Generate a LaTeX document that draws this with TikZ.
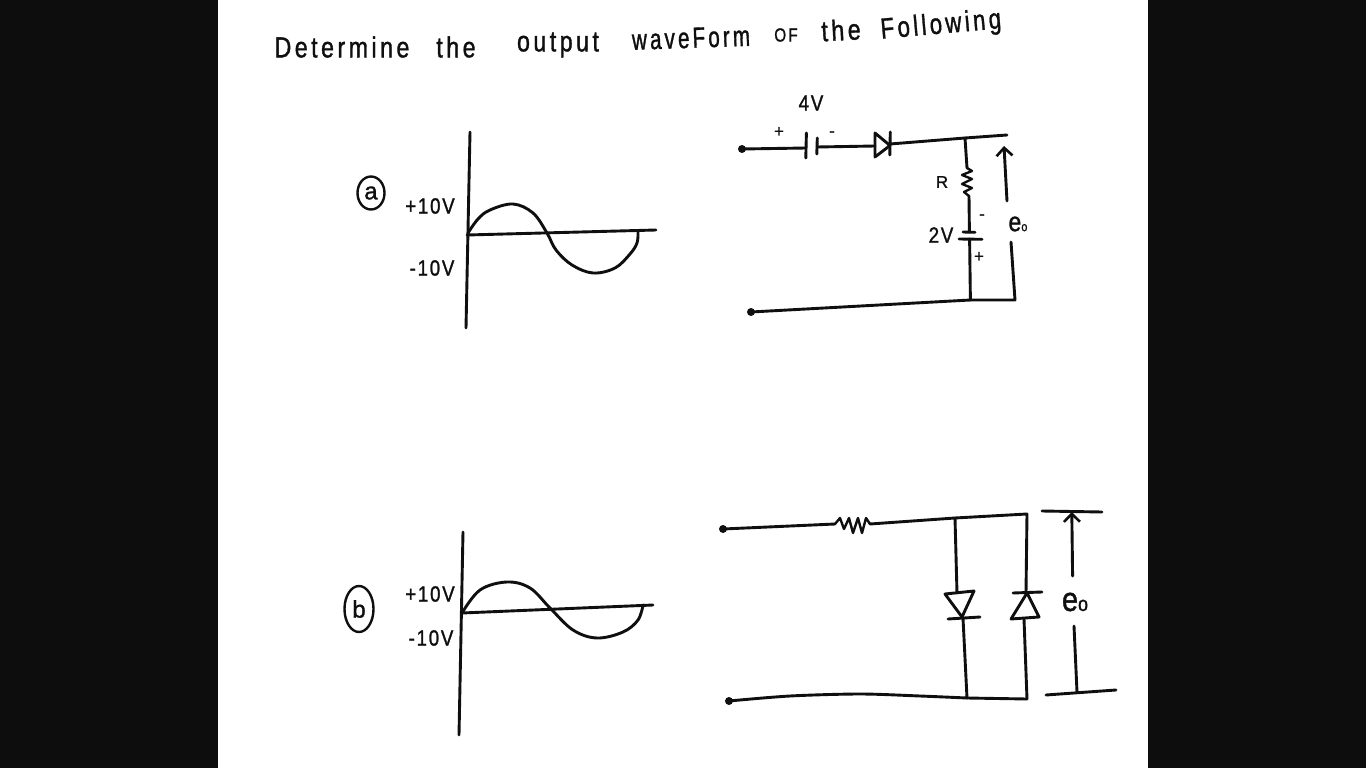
\documentclass[tikz,border=0pt]{standalone}
\usepackage{fontspec}
\setmainfont[FakeBold=1.2]{Liberation Sans}
\newfontfamily\hand[LetterSpace=12,FakeStretch=0.8,FakeBold=1.2]{Liberation Sans}
\newfontfamily\narrowlab[LetterSpace=8,FakeStretch=0.85,FakeBold=1.2]{Liberation Sans}
\usetikzlibrary{arrows.meta,shapes.geometric}
\definecolor{ink}{HTML}{0F0F0F}
\definecolor{frame}{HTML}{0D0D0D}
\tikzset{
  wire/.style={draw=ink,line width=2.9pt,line cap=round,line join=round},
  thin wire/.style={draw=ink,line width=2.4pt,line cap=round,line join=round},
  arrowed/.style={wire,-{Straight Barb[length=8pt,width=16pt,line width=2.6pt]}},
  term/.style={circle,fill=ink,inner sep=0pt,minimum size=8pt},
  title/.style={inner sep=0pt,text=ink,font=\hand\fontsize{29}{31}\selectfont},
  lab/.style={inner sep=0pt,text=ink,font=\narrowlab\fontsize{22}{24}\selectfont},
  small lab/.style={inner sep=0pt,text=ink,font=\fontsize{17}{19}\selectfont},
  eo/.style={inner sep=0pt,text=ink,font=\narrowlab\fontsize{28}{28}\selectfont},
  tag/.style={draw=ink,line width=2.4pt,ellipse,inner sep=0pt,text=ink,font=\fontsize{24}{26}\selectfont}
}
\begin{document}
\begin{tikzpicture}[x=1pt,y=-1pt]
\useasboundingbox (0,0) rectangle (1366,768);
\fill[frame] (0,0) rectangle (1366,768);
\fill[white] (218,0) rectangle (1148,768);

% title
\node[title] (t1) at (342,47) {Determine};
\node[title] (t2) at (456,47) {the};
\node[title] (t3) at (558,45) {output};
\node[title,rotate=2,xscale=0.89] (t4) at (691,38) {waveForm};
\node[title,font=\hand\fontsize{19}{21}\selectfont] (t5) at (786,35) {OF};
\node[title,rotate=3] (t6) at (841,30) {the};
\node[title,rotate=5,xscale=0.96] (t7) at (941,26) {Following};

% graph a
\coordinate (gaT) at (470,132);
\coordinate (gaB) at (466,328);
\coordinate (gaL) at (467,235);
\coordinate (gaR) at (656,230);
\draw[wire] (gaT) -- (gaB);
\draw[wire] (gaL) -- (gaR);
\draw[wire] plot[smooth,tension=0.6] coordinates {(468,233) (478,219) (490,210) (513,204) (533,213) (547,233) (556,250) (572,265) (593,273) (615,268) (630,254) (637,243) (638,232)};
\node[tag,minimum width=27pt,minimum height=33pt] (ca) at (371,193) {a};
\node[lab] (a10p) at (430,206) {+10V};
\node[lab] (a10m) at (432,268) {-10V};

% graph b
\coordinate (gbT) at (463,532);
\coordinate (gbB) at (459,735);
\coordinate (gbL) at (462,613);
\coordinate (gbR) at (653,605);
\draw[wire] (gbT) -- (gbB);
\draw[wire] (gbL) -- (gbR);
\draw[wire] plot[smooth,tension=0.6] coordinates {(462,613) (480,590) (507,582) (530,588) (550,608) (573,630) (597,638) (623,632) (638,620) (643,605)};
\node[tag,minimum width=29pt,minimum height=46pt] (cb) at (359,609) {b};
\node[lab] (b10p) at (430,594) {+10V};
\node[lab] (b10m) at (431,638) {-10V};

% circuit a
\node[term] (p1) at (742,149) {};
\node[term] (p2) at (751,312) {};
\coordinate (c1) at (806,148);
\coordinate (c2) at (817,147);
\coordinate (d1) at (875,146);
\coordinate (d2) at (890,144);
\coordinate (j1) at (965,138);
\coordinate (o1) at (1007,135);
\coordinate (r1) at (967,168);
\coordinate (r2) at (969,196);
\coordinate (b1) at (969.4,232);
\coordinate (b2) at (969.6,239);
\coordinate (j2) at (970.4,300);
\coordinate (k1) at (1015,300);
\coordinate (k2) at (1011,242);
\coordinate (ar1) at (1007,201);
\coordinate (ar2) at (1004,146);
\draw[wire] (p1.center) -- (c1);
\draw[wire] (806.4,133) -- (805.8,158);
\draw[wire] (817.3,138) -- (816.8,154);
\draw[wire] (c2) -- (d1);
\draw[wire] (875,133) -- (890,145.5) -- (875,157) -- cycle;
\draw[wire] (890.3,132) -- (889.8,155);
\draw[wire] (d2) -- (j1) -- (o1);
\draw[wire] (j1) -- (r1);
\draw[thin wire] (r1) -- (972,171) -- (962,175) -- (972,179) -- (962,184) -- (972,188) -- (964,192) -- (r2);
\draw[wire] (r2) -- (b1);
\draw[wire] (963,232) -- (975,232.3);
\draw[wire] (959,239) -- (982,239.3);
\draw[wire] (b2) -- (j2);
\draw[wire] (p2.center) -- (j2) -- (k1) -- (k2);
\draw[arrowed] (ar1) -- (ar2);
\node[lab] (lb4) at (811,103) {4V};
\node[small lab] (lbp) at (779,132) {+};
\node[small lab] (lbm) at (832,134) {-};
\node[small lab] (lbR) at (942,182) {R};
\node[lab] (lb2) at (941,235) {2V};
\node[small lab] (lbm2) at (982,217) {-};
\node[small lab] (lbp2) at (979,257) {+};
\node[eo,font=\narrowlab\fontsize{27}{27}\selectfont] (e1) at (1018,224) {e{\fontsize{13}{13}\selectfont o}};

% circuit b
\node[term] (q1) at (723,529) {};
\node[term] (q2) at (729,701) {};
\coordinate (s1) at (835,524);
\coordinate (s2) at (870,524);
\coordinate (j3) at (955,518);
\coordinate (j4) at (1027,514);
\coordinate (e2) at (1026,593);
\coordinate (e3) at (1024,619);
\coordinate (j5) at (1027,699);
\coordinate (f1) at (957,593);
\coordinate (f2) at (963,618);
\coordinate (j6) at (967,698);
\coordinate (u1) at (1072.6,576);
\coordinate (u2) at (1071.8,512);
\coordinate (v1) at (1074,626);
\coordinate (v2) at (1077,692);
\draw[wire] (q1.center) -- (s1);
\draw[thin wire] (s1) -- (840,518) -- (844,529) -- (849,518) -- (853,533) -- (858,518) -- (862,533) -- (866,518) -- (s2);
\draw[wire] (s2) -- (j3) -- (j4) -- (e2);
\draw[wire] (j3) -- (f1);
\draw[wire] (945,594) -- (974,591) -- (962,617) -- cycle;
\draw[wire] (948,619) -- (980,617);
\draw[wire] (f2) -- (j6);
\draw[wire] (1013,593) -- (1042,592);
\draw[wire] (1027,593) -- (1011,619) -- (1039,617) -- cycle;
\draw[wire] (e3) -- (j5);
\draw[wire] plot[smooth,tension=0.5] coordinates {(q2.center) (790,696) (860,694) (920,696) (j6)};
\draw[wire] (j6) -- (j5);
\draw[wire] (1042,511) -- (1102,512);
\draw[wire] (1046,695) -- (1116,690);
\draw[arrowed] (u1) -- (u2);
\draw[wire] (v1) -- (v2);
\node[eo,font=\narrowlab\fontsize{34}{34}\selectfont] (e4) at (1075,602) {e{\fontsize{21}{21}\selectfont o}};
\end{tikzpicture}
\end{document}
